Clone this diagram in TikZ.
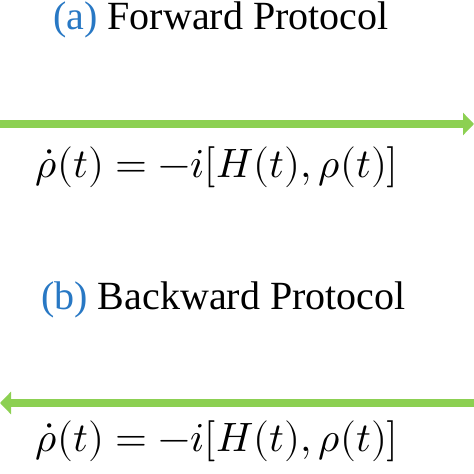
\documentclass[tikz,border=0pt]{standalone}
\usepackage{fontspec}
\usepackage{unicode-math}
\setmainfont{Liberation Serif}
\setmathfont{Latin Modern Math}
\usetikzlibrary{arrows.meta}
\definecolor{protgreen}{RGB}{140,208,82}
\definecolor{labblue}{RGB}{40,120,196}
\tikzset{
  title/.style={anchor=base, inner sep=0pt, font=\fontsize{40}{48}\selectfont},
  eqn/.style={anchor=base, inner sep=0pt, font=\fontsize{41}{49}\selectfont},
  protarrow/.style={draw=protgreen, line width=8pt, -{Triangle[width=22pt,length=11pt]}, protgreen}
}
\begin{document}
\begin{tikzpicture}[x=1pt,y=1pt]
\useasboundingbox (0,0) rectangle (474,474);
\node[title] (ta) at (221,444) {\textcolor{labblue}{(a)} Forward Protocol};
\coordinate (a1) at (0,350);
\coordinate (a2) at (474,350);
\draw[protarrow] (a1) -- (a2);
\node[eqn] (ea) at (217,296) {$\dot{\rho}(t) = -i[H(t),\rho(t)]$};
\node[title] (tb) at (223.5,164) {\textcolor{labblue}{(b)} Backward Protocol};
\coordinate (b1) at (474,71);
\coordinate (b2) at (0,71);
\draw[protarrow] (b1) -- (b2);
\node[eqn] (eb) at (217,22) {$\dot{\rho}(t) = -i[H(t),\rho(t)]$};
\end{tikzpicture}
\end{document}
